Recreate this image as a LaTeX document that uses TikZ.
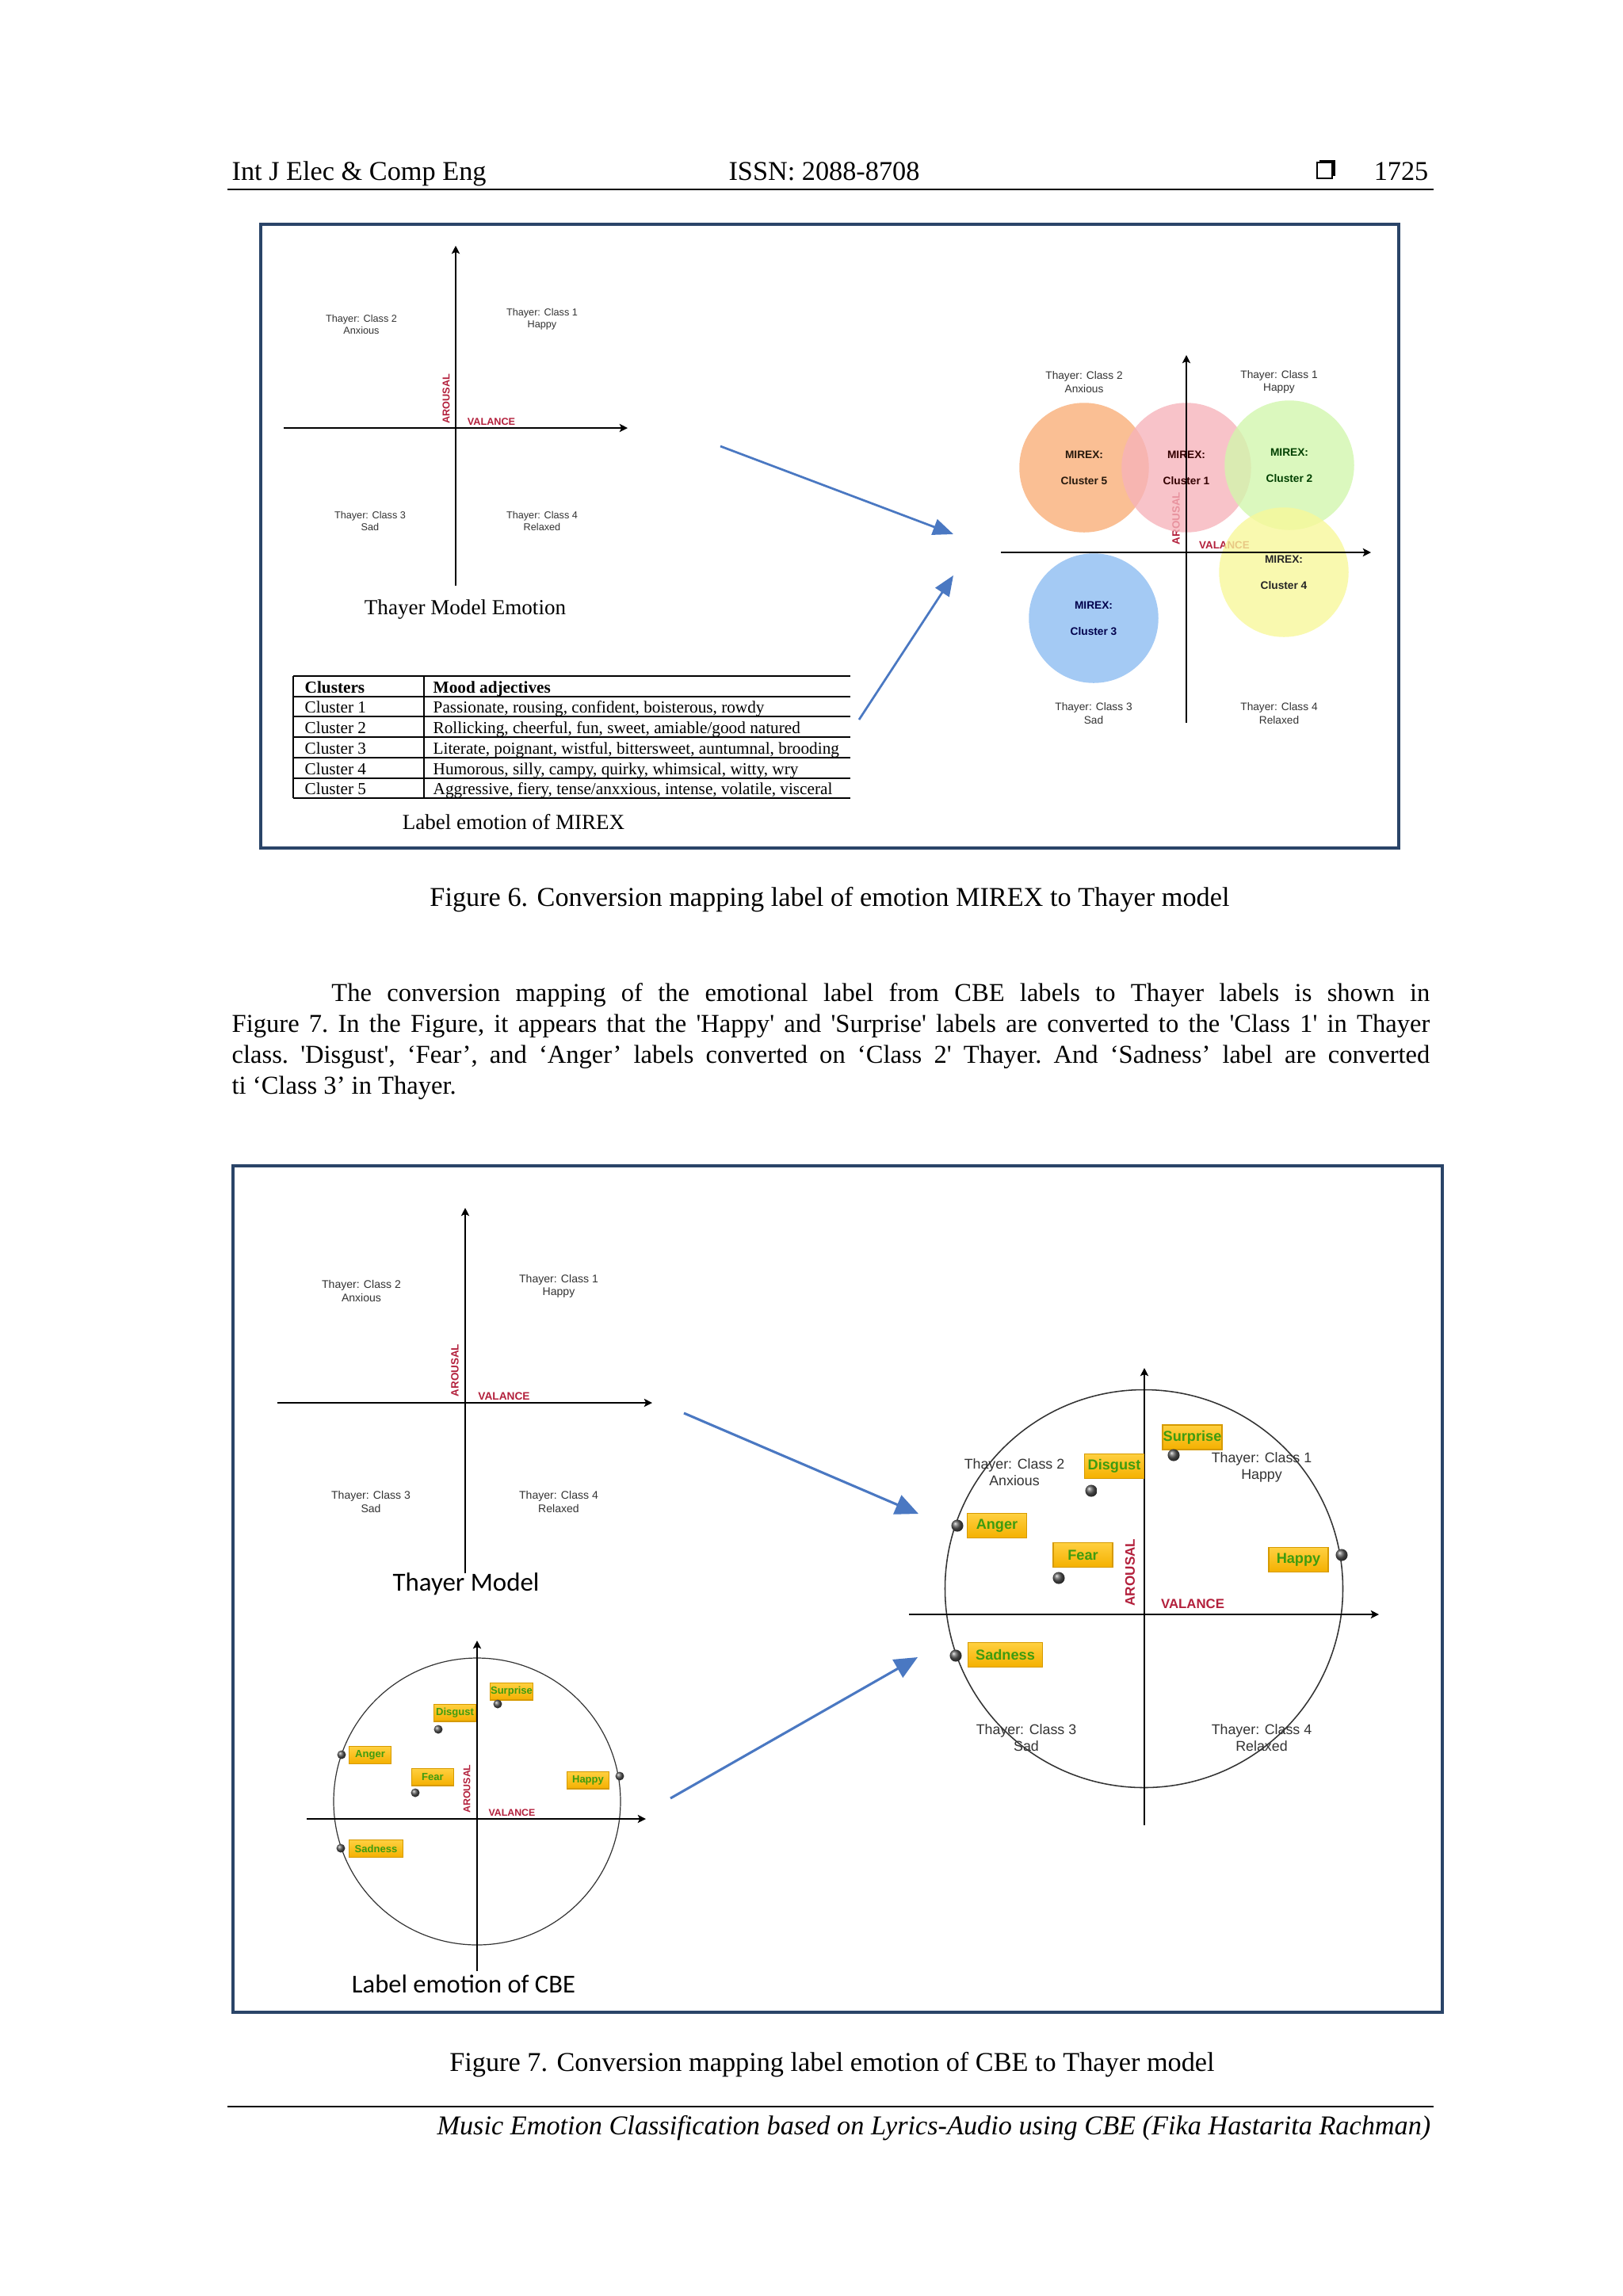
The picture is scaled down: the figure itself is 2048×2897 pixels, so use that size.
\documentclass[tikz,border=0pt]{standalone}
\usepackage{fontspec}
\setmainfont{Liberation Serif}
\setsansfont{Liberation Sans}
\newfontfamily\calibri{Carlito}
\usepackage{xcolor}
\usetikzlibrary{arrows.meta}

\definecolor{framenavy}{HTML}{2A4468}
\definecolor{axred}{HTML}{B3203C}
\definecolor{linkblue}{HTML}{4A78C2}
\definecolor{emotop}{HTML}{FFD040}
\definecolor{emobot}{HTML}{F4B000}
\definecolor{emoedge}{HTML}{D69A00}
\definecolor{emogreen}{HTML}{3E9C10}
\definecolor{clorange}{HTML}{F9AE76}
\definecolor{clpink}{HTML}{F7B3BA}
\definecolor{clgreen}{HTML}{D2F7AC}
\definecolor{clyellow}{HTML}{F8F899}
\definecolor{clblue}{HTML}{8BBCF2}

\begin{document}
\begin{tikzpicture}[
  x=0.010254cm, y=-0.010254cm,
  page/.style={inner sep=0, font=\fontsize{10}{12}\selectfont},
  frame/.style={draw=framenavy, line width=1.1pt},
  axis/.style={-{Stealth[length=3pt, width=3pt, inset=0.7pt]}, line width=0.45pt},
  linkA/.style={-{Triangle[length=7.5pt, width=6pt]}, draw=linkblue, line width=0.8pt},
  linkB/.style={-{Triangle[length=8.5pt, width=7.5pt]}, draw=linkblue, line width=0.9pt},
  quad/.style 2 args={font=\sffamily\fontsize{#1}{#2}\selectfont, align=center, text=black!80, inner sep=0},
  axlab/.style={font=\sffamily\bfseries\fontsize{#1}{#1}\selectfont, text=axred, inner sep=0},
  cluster/.style={circle, minimum size=47.7pt, inner sep=0, fill opacity=0.78, text opacity=1, align=center, font=\sffamily\bfseries\fontsize{4}{9.6}\selectfont},
  emobig/.style={draw=emoedge, line width=0.4pt, top color=emotop, bottom color=emobot, text=emogreen, inner sep=0, minimum width=21.8pt, minimum height=9pt, font=\sffamily\bfseries\fontsize{5.3}{5.3}\selectfont},
  emosmall/.style={draw=emoedge, line width=0.3pt, top color=emotop, bottom color=emobot, text=emogreen, inner sep=0, minimum width=15.7pt, minimum height=6.4pt, font=\sffamily\bfseries\fontsize{3.8}{3.8}\selectfont},
  dotbig/.style={circle, inner sep=0, minimum size=4.4pt, ball color=black!65},
  dotsmall/.style={circle, inner sep=0, minimum size=3.2pt, ball color=black!65},
  tab/.style={font=\fontsize{6.2}{7.5}\selectfont, inner sep=0, anchor=base west}
]
\fill[white] (0,0) rectangle (2048,2897);
\useasboundingbox (0,0) rectangle (2048,2897);

\node[page, anchor=base west] (jname) at (292,227) {Int J Elec \& Comp Eng};
\node[page, anchor=base] (issn) at (1040,227) {ISSN: 2088-8708};
\fill (1665,202) rectangle (1685,222);
\filldraw[fill=white, draw=black, line width=0.4pt] (1662,205) rectangle (1681,225);
\node[page, anchor=base east] (pageno) at (1803,227) {1725};
\draw[line width=0.8pt] (287,239) -- (1809,239);

\draw[frame] (329,283) rectangle (1765,1070);

\coordinate (t6y0) at (575,739);
\coordinate (t6y1) at (575,310);
\coordinate (t6x0) at (358,540);
\coordinate (t6x1) at (792,540);
\node[quad={3.7}{4.4}] (t6c2) at (456,409) {Thayer: Class 2\\Anxious};
\node[quad={3.7}{4.4}] (t6c1) at (684,403) {Thayer: Class 1\\Happy};
\node[quad={3.7}{4.4}] (t6c3) at (467,657) {Thayer: Class 3\\Sad};
\node[quad={3.7}{4.4}] (t6c4) at (684,657) {Thayer: Class 4\\Relaxed};
\node[axlab=3.7, rotate=90] (t6ar) at (563,503) {AROUSAL};
\node[axlab=3.7] (t6va) at (620,532) {VALANCE};
\draw[axis] (t6y0) -- (t6y1);
\draw[axis] (t6x0) -- (t6x1);
\node[inner sep=0, font=\fontsize{7.9}{9}\selectfont] (t6title) at (587,769) {Thayer Model Emotion};

\coordinate (m6y0) at (1497,912);
\coordinate (m6y1) at (1497,448);
\coordinate (m6x0) at (1263,697);
\coordinate (m6x1) at (1730,697);
\node[quad={4}{4.9}] (m6c2) at (1368,482) {Thayer: Class 2\\Anxious};
\node[quad={4}{4.9}] (m6c1) at (1614,482) {Thayer: Class 1\\Happy};
\node[quad={4}{4.9}] (m6c3) at (1380,900) {Thayer: Class 3\\Sad};
\node[quad={4}{4.9}] (m6c4) at (1614,900) {Thayer: Class 4\\Relaxed};
\node[axlab=3.9, rotate=90] (m6ar) at (1484,654) {AROUSAL};
\node[axlab=3.9] (m6va) at (1545,688) {VALANCE};
\node[cluster, fill=clorange, text=black!80!brown] (cl5) at (1368,590) {MIREX:\\Cluster 5};
\node[cluster, fill=clpink, text=black!80!red] (cl1) at (1497,590) {MIREX:\\Cluster 1};
\node[cluster, fill=clgreen, text=black!75!green] (cl2) at (1627,587) {MIREX:\\Cluster 2};
\node[cluster, fill=clyellow, text=black!85] (cl4) at (1620,722) {MIREX:\\Cluster 4};
\node[cluster, fill=clblue, text=black!70!blue] (cl3) at (1380,780) {MIREX:\\Cluster 3};
\draw[axis] (m6y0) -- (m6y1);
\draw[axis] (m6x0) -- (m6x1);

\coordinate (f6a0) at (909,563);
\coordinate (f6a1) at (1203,674);
\coordinate (f6b0) at (1084,908);
\coordinate (f6b1) at (1203,726);
\draw[linkA] (f6a0) -- (f6a1);
\draw[linkA] (f6b0) -- (f6b1);

\draw[line width=0.6pt] (370,853) -- (1073,853);
\draw[line width=0.5pt] (370,879) -- (1073,879);
\draw[line width=0.4pt] (370,904) -- (1073,904);
\draw[line width=0.4pt] (370,930) -- (1073,930);
\draw[line width=0.4pt] (370,956) -- (1073,956);
\draw[line width=0.4pt] (370,982) -- (1073,982);
\draw[line width=0.6pt] (370,1007) -- (1073,1007);
\draw[line width=0.5pt] (370,853) -- (370,1007);
\draw[line width=0.5pt] (535,853) -- (535,1007);
\node[tab, font=\bfseries\fontsize{6.2}{7.5}\selectfont] (thead1) at (384,874) {Clusters};
\node[tab, font=\bfseries\fontsize{6.2}{7.5}\selectfont] (thead2) at (546,874) {Mood adjectives};
\node[tab] (tk1) at (384,899) {Cluster 1};
\node[tab] (tm1) at (546,899) {Passionate, rousing, confident, boisterous, rowdy};
\node[tab] (tk2) at (384,925) {Cluster 2};
\node[tab] (tm2) at (546,925) {Rollicking, cheerful, fun, sweet, amiable/good natured};
\node[tab] (tk3) at (384,951) {Cluster 3};
\node[tab] (tm3) at (546,951) {Literate, poignant, wistful, bittersweet, auntumnal, brooding};
\node[tab] (tk4) at (384,977) {Cluster 4};
\node[tab] (tm4) at (546,977) {Humorous, silly, campy, quirky, whimsical, witty, wry};
\node[tab] (tk5) at (384,1002) {Cluster 5};
\node[tab] (tm5) at (546,1002) {Aggressive, fiery, tense/anxxious, intense, volatile, visceral};
\node[inner sep=0, font=\fontsize{7.9}{9}\selectfont] (mirextitle) at (648,1037) {Label emotion of MIREX};

\node[page, anchor=base] (cap6) at (1047,1143) {Figure 6. Conversion mapping label of emotion MIREX to Thayer model};

\node[inner sep=0, anchor=base west, text width=15.50cm, align=justify, font=\fontsize{9.5}{11.45}\selectfont] (para) at (292,1263)
{\frenchspacing\hspace*{1.29cm}The conversion mapping of the emotional label from CBE labels to Thayer labels is shown in\linebreak
Figure 7. In the Figure, it appears that the \textquotesingle Happy\textquotesingle{} and \textquotesingle Surprise\textquotesingle{} labels are converted to the \textquotesingle Class 1\textquotesingle{} in Thayer\linebreak
class. \textquotesingle Disgust\textquotesingle, ‘Fear’, and ‘Anger’ labels converted on ‘Class 2\textquotesingle{} Thayer. And ‘Sadness’ label are converted\linebreak
ti ‘Class 3’ in Thayer.};

\draw[frame] (294,1471) rectangle (1820,2539);

\coordinate (t7y0) at (587,1985);
\coordinate (t7y1) at (587,1524);
\coordinate (t7x0) at (350,1770);
\coordinate (t7x1) at (823,1770);
\node[quad={4.1}{4.7}] (t7c2) at (456,1629) {Thayer: Class 2\\Anxious};
\node[quad={4.1}{4.7}] (t7c1) at (705,1623) {Thayer: Class 1\\Happy};
\node[quad={4.1}{4.7}] (t7c3) at (468,1895) {Thayer: Class 3\\Sad};
\node[quad={4.1}{4.7}] (t7c4) at (705,1895) {Thayer: Class 4\\Relaxed};
\node[axlab=3.9, rotate=90] (t7ar) at (574,1729) {AROUSAL};
\node[axlab=4] (t7va) at (636,1762) {VALANCE};
\draw[axis] (t7y0) -- (t7y1);
\draw[axis] (t7x0) -- (t7x1);
\node[inner sep=0, font=\calibri\fontsize{9.6}{11}\selectfont] (t7title) at (588,1999) {Thayer Model};

\coordinate (c7y0) at (602,2487);
\coordinate (c7y1) at (602,2070);
\coordinate (c7x0) at (387,2295);
\coordinate (c7x1) at (815,2295);
\draw[line width=0.35pt, black!80] (602,2273) circle[radius=181];
\node[axlab=3.6, rotate=90] (c7ar) at (589,2257) {AROUSAL};
\node[axlab=3.6] (c7va) at (646,2287) {VALANCE};
\draw[axis] (c7y0) -- (c7y1);
\draw[axis] (c7x0) -- (c7x1);
\node[emosmall] (c7sur) at (645.5,2134) {Surprise};
\node[emosmall] (c7dis) at (574,2161) {Disgust};
\node[emosmall] (c7ang) at (467,2214.5) {Anger};
\node[emosmall] (c7fea) at (546,2242) {Fear};
\node[emosmall] (c7hap) at (742,2246) {Happy};
\node[emosmall, minimum width=20.1pt] (c7sad) at (474.5,2332.5) {Sadness};
\node[dotsmall] (c7dsur) at (628,2150) {};
\node[dotsmall] (c7ddis) at (553,2182) {};
\node[dotsmall] (c7dang) at (431,2214) {};
\node[dotsmall] (c7dfea) at (524,2262) {};
\node[dotsmall] (c7dhap) at (782,2241) {};
\node[dotsmall] (c7dsad) at (430,2332) {};
\node[inner sep=0, font=\calibri\fontsize{9.5}{11}\selectfont] (c7title) at (585,2503) {Label emotion of CBE};

\coordinate (r7y0) at (1444,2303);
\coordinate (r7y1) at (1444,1726);
\coordinate (r7x0) at (1147,2037);
\coordinate (r7x1) at (1740,2037);
\node[quad={5.2}{6.1}] (r7c2) at (1280,1858) {Thayer: Class 2\\Anxious};
\node[quad={5.2}{6.1}] (r7c1) at (1592,1851) {Thayer: Class 1\\Happy};
\node[quad={5.2}{6.1}] (r7c3) at (1295,2193) {Thayer: Class 3\\Sad};
\node[quad={5.2}{6.1}] (r7c4) at (1592,2193) {Thayer: Class 4\\Relaxed};
\draw[line width=0.45pt, black!80] (1443.5,2004.5) circle[radius=251];
\node[axlab=5, rotate=90] (r7ar) at (1426,1984) {AROUSAL};
\node[axlab=4.9] (r7va) at (1505,2024) {VALANCE};
\draw[axis] (r7y0) -- (r7y1);
\draw[axis] (r7x0) -- (r7x1);
\node[emobig] (r7sur) at (1504.5,1813.5) {Surprise};
\node[emobig] (r7dis) at (1406,1850) {Disgust};
\node[emobig] (r7ang) at (1258,1925) {Anger};
\node[emobig] (r7fea) at (1366.5,1962) {Fear};
\node[emobig] (r7hap) at (1638.5,1968) {Happy};
\node[emobig, minimum width=27.6pt] (r7sad) at (1268.5,2088) {Sadness};
\node[dotbig] (r7dsur) at (1481,1836) {};
\node[dotbig] (r7ddis) at (1377,1881) {};
\node[dotbig] (r7dang) at (1208,1925) {};
\node[dotbig] (r7dfea) at (1336,1991) {};
\node[dotbig] (r7dhap) at (1693,1962) {};
\node[dotbig] (r7dsad) at (1206,2089) {};

\coordinate (f7a0) at (863,1783);
\coordinate (f7a1) at (1159,1910);
\coordinate (f7b0) at (846,2269);
\coordinate (f7b1) at (1158,2091);
\draw[linkB] (f7a0) -- (f7a1);
\draw[linkB] (f7b0) -- (f7b1);

\node[page, anchor=base] (cap7) at (1050,2613) {Figure 7. Conversion mapping label emotion of CBE to Thayer model};
\draw[line width=0.8pt] (287,2658) -- (1809,2658);
\node[page, anchor=base east, font=\itshape\fontsize{10}{12}\selectfont] (footer) at (1806,2693) {Music Emotion Classification based on Lyrics-Audio using CBE (Fika Hastarita Rachman)};
\end{tikzpicture}
\end{document}
